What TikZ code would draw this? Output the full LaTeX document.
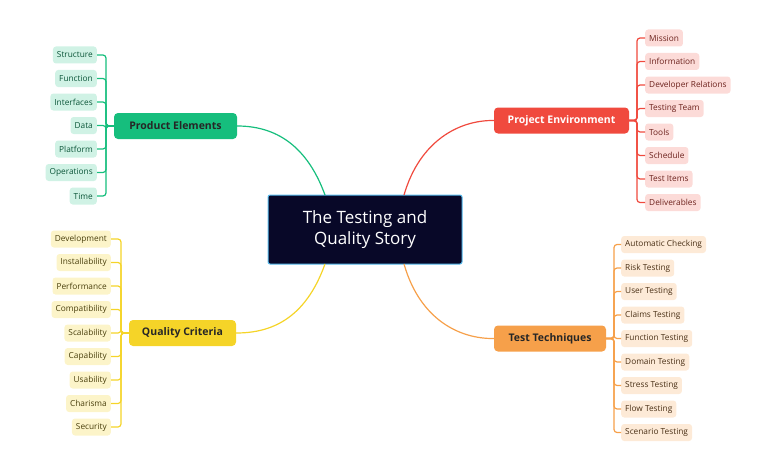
\documentclass[tikz,border=0pt]{standalone}
\usepackage{fontspec}
\setmainfont{Open Sans}
\definecolor{peGreen}{RGB}{22,190,125}
\definecolor{envRed}{RGB}{240,74,62}
\definecolor{qcYellow}{RGB}{245,212,40}
\definecolor{ttOrange}{RGB}{246,160,74}
\definecolor{storyNavy}{RGB}{8,8,40}
\definecolor{storyEdge}{RGB}{90,190,240}

\begin{document}
\begin{tikzpicture}[x=1pt, y=-1pt,
        topic/.style={rectangle, rounded corners=4pt, minimum height=26pt, inner xsep=8pt, font=\fontsize{10.5}{12}\selectfont\bfseries},
        leaf/.style={rectangle, rounded corners=3pt, minimum height=17pt, inner xsep=4pt, font=\fontsize{8.3}{9}\selectfont},
        link/.style={line width=1.2pt, rounded corners=3pt}
    ]
        \useasboundingbox (0,0) rectangle (768,460);
        \node[rectangle, rounded corners=2pt, draw=storyEdge, line width=1pt, fill=storyNavy, text=white, minimum width=194pt, minimum height=69pt, align=center, font=\fontsize{17}{21}\selectfont] (story) at (365,229.5) {The Testing and\\Quality Story};

        \node[topic, fill=peGreen, text=black!85, minimum width=123pt] (prod) at (175.5,126) {Product Elements};
        \node[topic, fill=envRed, text=white, minimum width=135pt] (env) at (561.5,120.5) {Project Environment};
        \node[topic, fill=qcYellow, text=black!85, minimum width=107pt] (qual) at (182.5,333) {Quality Criteria};
        \node[topic, fill=ttOrange, text=black!85, minimum width=112pt] (tech) at (550,338.5) {Test Techniques};

        % main branches
        \draw[link, peGreen] (325,195) .. controls (305,140) and (270,126) .. (prod.east);
        \draw[link, envRed] (404,195) .. controls (420,140) and (460,120) .. (env.west);
        \draw[link, qcYellow] (325,264) .. controls (305,320) and (270,333) .. (qual.east);
        \draw[link, ttOrange] (404,264) .. controls (420,320) and (460,339) .. (tech.west);

        % product elements
        \coordinate (prodbar) at (106,126);
        \foreach \txt [count=\i] in {Structure,Function,Interfaces,Data,Platform,Operations,Time} {
            \node[leaf, fill=peGreen!20, text=peGreen!45!black, anchor=east] (prod\i) at (97,31.5+23.5*\i) {\txt};
            \draw[link, peGreen] (prod.west) -- (prodbar) |- (prod\i.east);
        }

        % project environment
        \coordinate (envbar) at (637,120.5);
        \foreach \txt [count=\i] in {Mission,Information,Developer Relations,Testing Team,Tools,Schedule,Test Items,Deliverables} {
            \node[leaf, fill=envRed!20, text=envRed!45!black, anchor=west] (env\i) at (645,14.5+23.5*\i) {\txt};
            \draw[link, envRed] (env.east) -- (envbar) |- (env\i.west);
        }

        % quality criteria
        \coordinate (qualbar) at (121,333);
        \foreach \txt [count=\i] in {Development,Installability,Performance,Compatibility,Scalability,Capability,Usability,Charisma,Security} {
            \node[leaf, fill=qcYellow!25, text=qcYellow!30!black, anchor=east] (qual\i) at (111,215.5+23.5*\i) {\txt};
            \draw[link, qcYellow] (qual.west) -- (qualbar) |- (qual\i.east);
        }

        % test techniques
        \coordinate (techbar) at (614,338.5);
        \foreach \txt [count=\i] in {Automatic Checking,Risk Testing,User Testing,Claims Testing,Function Testing,Domain Testing,Stress Testing,Flow Testing,Scenario Testing} {
            \node[leaf, fill=ttOrange!22, text=ttOrange!30!black, anchor=west] (tech\i) at (621,221+23.5*\i) {\txt};
            \draw[link, ttOrange] (tech.east) -- (techbar) |- (tech\i.west);
        }
    \end{tikzpicture}
\end{document}
